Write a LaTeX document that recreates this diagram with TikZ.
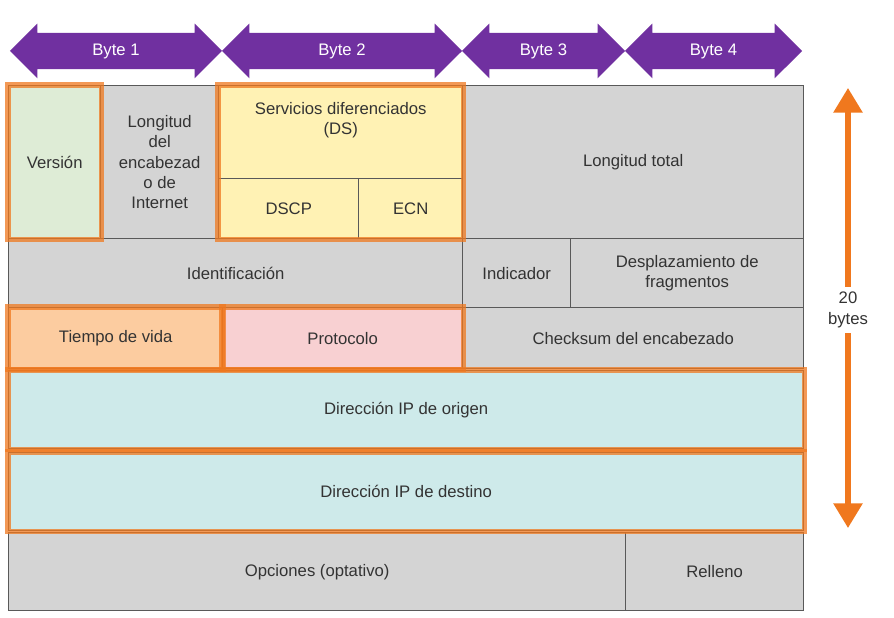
\documentclass[tikz,border=0pt]{standalone}
\usepackage{fontspec}
\setmainfont{Liberation Sans}
\usetikzlibrary{shapes.arrows,arrows.meta}
\definecolor{bytepurple}{RGB}{112,48,160}
\definecolor{cellgray}{RGB}{212,212,212}
\definecolor{cellgreen}{RGB}{222,236,214}
\definecolor{cellyellow}{RGB}{255,242,180}
\definecolor{cellpeach}{RGB}{252,204,160}
\definecolor{cellpink}{RGB}{248,208,210}
\definecolor{cellcyan}{RGB}{206,234,234}
\definecolor{glow}{RGB}{240,120,30}
\newcommand\cell[7]{%
  \pgfmathsetmacro\cw{(#4-#2)*0.02}\pgfmathsetmacro\ch{(#5-#3)*0.02}%
  \node[cell,fill=#6,minimum width=\cw cm,minimum height=\ch cm,anchor=north west] (#1) at (#2,#3) {#7};}
\newcommand\bytearrow[4]{%
  \pgfmathsetmacro\aw{(#3-#2)*0.02}%
  \node[bytearr,minimum height=\aw cm] (#1) at ({(#2+#3)/2},51) {#4};}
\tikzset{
  cell/.style={draw=black!65,line width=0.8pt,inner sep=1pt,align=center,text=black!80,font=\fontsize{9.5}{11.5}\selectfont},
  hot/.style={draw=glow,line width=3pt,opacity=0.75},
  bytearr/.style={double arrow,fill=bytepurple,text=white,minimum width=1.1cm,
    double arrow head extend=0.1cm,inner sep=1pt,font=\fontsize{9.5}{11.5}\selectfont}
}
\begin{document}
\begin{tikzpicture}[x=0.02cm,y=-0.02cm]
\useasboundingbox[fill=white] (0,0) rectangle (894,618);
\bytearrow{b1}{10}{222}{Byte 1}
\bytearrow{b2}{222}{462}{Byte 2}
\bytearrow{b3}{462}{625}{Byte 3}
\bytearrow{b4}{625}{802}{Byte 4}
% row 1
\cell{ver}{8}{85}{100}{238}{cellgreen}{Versión}
\cell{ihl}{100}{85}{218}{238}{cellgray}{Longitud\\del\\encabezad\\o de\\Internet}
\cell{ds}{218}{85}{462}{178}{cellyellow}{Servicios diferenciados\\(DS)\\[4pt]}
\cell{dscp}{218}{178}{358}{238}{cellyellow}{DSCP}
\cell{ecn}{358}{178}{462}{238}{cellyellow}{ECN}
\cell{tot}{462}{85}{803}{238}{cellgray}{Longitud total}
% row 2
\cell{id}{8}{238}{462}{307}{cellgray}{Identificación}
\cell{flag}{462}{238}{570}{307}{cellgray}{Indicador}
\cell{frag}{570}{238}{803}{307}{cellgray}{Desplazamiento de\\fragmentos}
% row 3
\cell{ttl}{8}{307}{222}{368}{cellpeach}{Tiempo de vida}
\cell{prot}{222}{307}{462}{368}{cellpink}{Protocolo}
\cell{chk}{462}{307}{803}{368}{cellgray}{Checksum del encabezado}
% rows 4-6
\cell{src}{8}{370}{803}{448}{cellcyan}{Dirección IP de origen}
\cell{dst}{8}{452}{803}{530}{cellcyan}{Dirección IP de destino}
\cell{opt}{8}{532}{625}{610}{cellgray}{Opciones (optativo)}
\cell{pad}{625}{532}{803}{610}{cellgray}{Relleno}
% highlights
\foreach \n in {ver,ttl,prot,src,dst}
  \draw[hot] (\n.north west) rectangle (\n.south east);
\draw[hot] (ds.north west) rectangle (ecn.south east);
% 20 bytes
\coordinate (top) at (848,88);
\coordinate (bot) at (848,528);
\node[fill=white,align=center,text=black!80,font=\fontsize{9.5}{11.5}\selectfont,inner sep=3pt] (lbl) at (848,310) {20\\bytes};
\draw[-{Triangle[width=16pt,length=14pt]},glow,line width=3pt] (lbl.north) -- (top);
\draw[-{Triangle[width=16pt,length=14pt]},glow,line width=3pt] (lbl.south) -- (bot);
\end{tikzpicture}
\end{document}
